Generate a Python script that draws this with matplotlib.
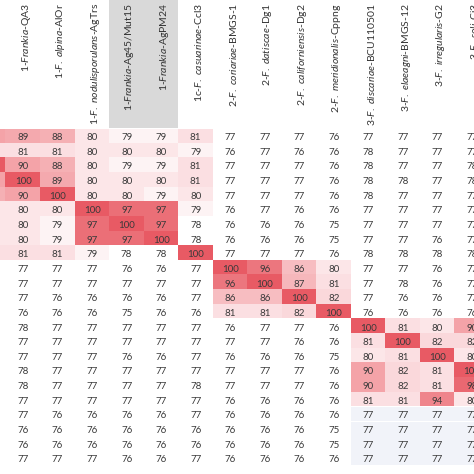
import numpy as np
import matplotlib.pyplot as plt
from matplotlib.colors import LinearSegmentedColormap
from matplotlib.patches import Rectangle

plt.rcParams['font.family'] = 'Lato'
plt.rcParams['mathtext.fontset'] = 'custom'
plt.rcParams['mathtext.rm'] = 'Lato'
plt.rcParams['mathtext.it'] = 'Lato:italic'

# column headers (first column is cut off at the left edge of the crop)
col_labels = [
    "",
    r"1-$\mathit{Frankia}$-QA3",
    r"1-$\mathit{F.\ alpina}$-AlOr",
    r"1-$\mathit{F.\ nodulisporulans}$-AgTrs",
    r"1-$\mathit{Frankia}$-Ag45/Mut15",
    r"1-$\mathit{Frankia}$-AgPM24",
    r"1c-$\mathit{F.\ casuarinae}$-Ccl3",
    r"2-$\mathit{F.\ coriariae}$-BMGS-1",
    r"2-$\mathit{F.\ datiscae}$-Dg1",
    r"2-$\mathit{F.\ californiensis}$-Dg2",
    r"2-$\mathit{F.\ meridionalis}$-Cppng",
    r"3-$\mathit{F.\ discariae}$-BCU110501",
    r"3-$\mathit{F.\ elaeagni}$-BMGS-12",
    r"3-$\mathit{F.\ irregularis}$-G2",
    r"3-$\mathit{F.\ soli}$-Cj3",
]

# ANI values (%), one list per row
ani = np.array([
    [90, 89, 88, 80, 79, 79, 81, 77, 77, 77, 76, 77, 77, 77, 77],
    [81, 81, 81, 80, 80, 80, 79, 76, 77, 76, 76, 78, 77, 77, 77],
    [100, 90, 88, 80, 79, 79, 81, 77, 77, 77, 76, 78, 77, 77, 78],
    [90, 100, 89, 80, 80, 80, 81, 77, 77, 77, 76, 78, 78, 77, 78],
    [88, 90, 100, 80, 80, 79, 80, 77, 77, 77, 76, 78, 77, 77, 77],
    [80, 80, 80, 100, 97, 97, 79, 76, 77, 76, 76, 77, 77, 77, 77],
    [80, 80, 79, 97, 100, 97, 78, 76, 76, 76, 75, 77, 77, 77, 77],
    [80, 80, 79, 97, 97, 100, 78, 76, 76, 76, 75, 77, 77, 76, 77],
    [81, 81, 81, 79, 78, 78, 100, 77, 77, 77, 76, 78, 78, 78, 78],
    [77, 77, 77, 77, 76, 76, 77, 100, 96, 86, 80, 77, 77, 76, 77],
    [77, 77, 77, 77, 77, 77, 77, 96, 100, 87, 81, 77, 78, 76, 77],
    [77, 77, 76, 76, 76, 76, 77, 86, 86, 100, 82, 77, 76, 76, 77],
    [76, 76, 76, 76, 75, 76, 76, 81, 81, 82, 100, 76, 76, 76, 76],
    [78, 78, 77, 77, 77, 77, 77, 76, 77, 77, 76, 100, 81, 80, 90],
    [77, 77, 77, 77, 77, 77, 77, 77, 77, 76, 76, 81, 100, 82, 82],
    [77, 77, 77, 77, 76, 76, 77, 76, 76, 76, 75, 80, 81, 100, 80],
    [78, 78, 77, 77, 77, 77, 77, 77, 77, 77, 76, 90, 82, 81, 100],
    [77, 78, 77, 77, 77, 77, 78, 77, 77, 77, 76, 90, 82, 81, 98],
    [77, 77, 77, 77, 77, 77, 77, 76, 76, 76, 76, 81, 81, 94, 80],
    [77, 77, 76, 76, 76, 76, 77, 76, 76, 76, 76, 77, 77, 77, 77],
    [76, 76, 76, 76, 76, 76, 76, 76, 76, 76, 75, 77, 77, 77, 77],
    [76, 76, 76, 76, 76, 76, 76, 76, 76, 76, 75, 77, 77, 77, 77],
    [77, 77, 77, 77, 76, 76, 77, 76, 76, 76, 76, 77, 77, 77, 77],
])

highlight_cols = [4, 5]            # grey header box
tinted_rows = [19, 20, 21, 22]     # faint bluish block
tinted_cols = [11, 12, 13, 14]

W = H = 474
left_px, right_px = -28.75, 489.25
top_px, bot_px = 128.5, 465.45

fig = plt.figure(figsize=(4.74, 4.74), dpi=100)
ax = fig.add_axes([left_px / W, 1 - bot_px / H,
                   (right_px - left_px) / W, (bot_px - top_px) / H])

vmin, vmax = 78, 100
stops = [(78, '#FFFFFF'), (80, '#FCE6E8'), (90, '#F4A3A8'), (100, '#E85A64')]
cmap = LinearSegmentedColormap.from_list(
    'ani', [((v - vmin) / (vmax - vmin), c) for v, c in stops])
ax.imshow(ani, cmap=cmap, vmin=vmin, vmax=vmax, aspect='auto', interpolation='nearest')

for r in tinted_rows:
    for c in tinted_cols:
        ax.add_patch(Rectangle((c - 0.5, r - 0.5), 1, 1, facecolor='#F1F3F9',
                               edgecolor='none', zorder=2))

for i in range(ani.shape[0]):
    for j in range(ani.shape[1]):
        ax.text(j, i + 0.12, str(ani[i, j]), ha='center', va='center',
                fontsize=7, color='#3a3a3a', zorder=3)

ax.set_xlim(-0.5, ani.shape[1] - 0.5)
ax.set_ylim(ani.shape[0] - 0.5, -0.5)
ax.axis('off')

ax_h = bot_px - top_px
tr = ax.get_xaxis_transform()
gx0 = min(highlight_cols) - 0.5
ax.add_patch(Rectangle((gx0, 1 + 1.0 / ax_h), len(highlight_cols), 130 / ax_h,
                       transform=tr, facecolor='#D9D9D9', edgecolor='none',
                       clip_on=False, zorder=1))

for j, lab in enumerate(col_labels):
    if not lab:
        continue
    ax.text(j + 0.09, 1 + (top_px - 3) / ax_h, lab, transform=tr, rotation=90,
            ha='center', va='top', fontsize=7.5, color='#333333', zorder=4)

fig.savefig('out.png', dpi=100)
